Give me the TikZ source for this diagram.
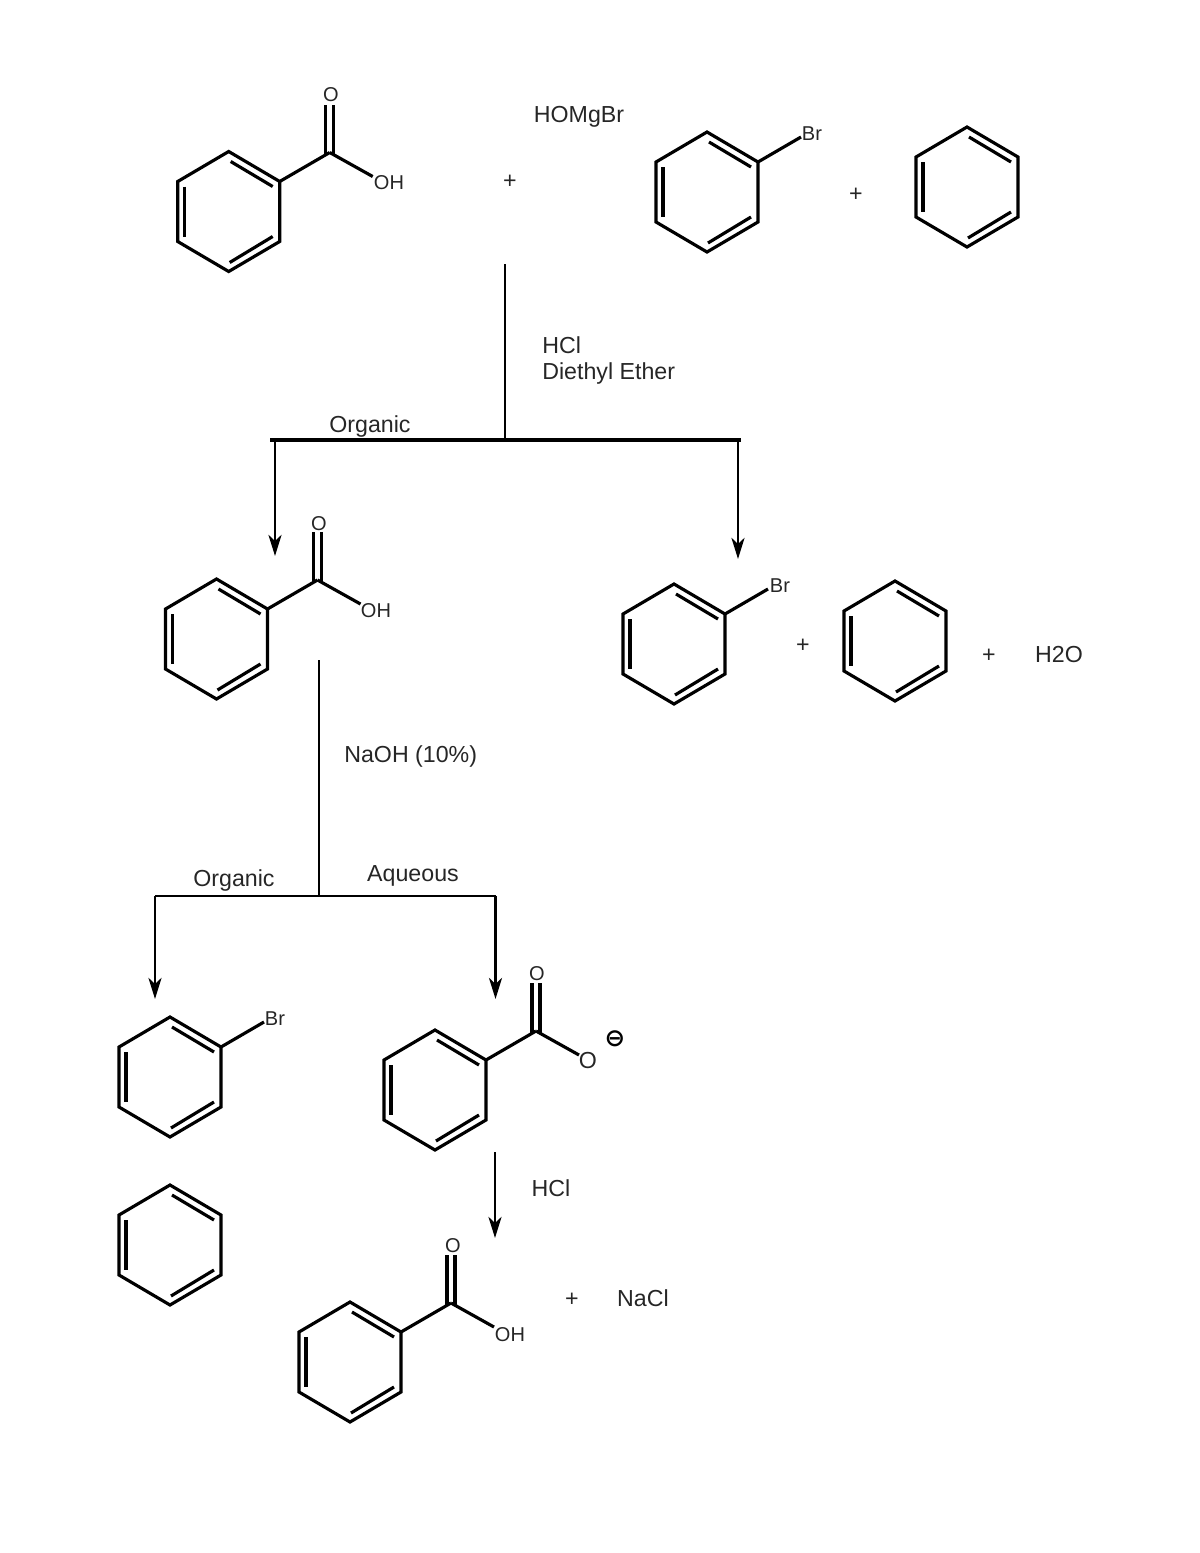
\documentclass[tikz,border=0pt]{standalone}
\usepackage{fontspec}
\setmainfont{Liberation Sans}
\newfontfamily\symbfont{DejaVu Sans}
\usetikzlibrary{arrows.meta}

\begin{document}
\begin{tikzpicture}[
    x=0.02cm, y=-0.02cm,
    bond/.style={line width=1.8pt, line join=miter},
    arrow/.style={-{Stealth[length=12pt, width=7.4pt, inset=3.5pt]}, line width=1.7pt},
    stem/.style={line width=1.5pt},
    bar/.style={line width=2.5pt},
    atom/.style={font=\fontsize{11.4}{12}\selectfont, text=black!85, inner sep=0pt},
    chem/.style={font=\fontsize{13.2}{14.8}\selectfont, text=black!85, inner sep=0pt},
    ring/.pic={
        \draw[bond] (0,-60) -- (51,-30) -- (51,30) -- (0,60) -- (-51,30) -- (-51,-30) -- cycle;
        \draw[bond] (2,-50) -- (44,-25);
        \draw[bond] (-44,-25) -- (-44,25);
        \draw[bond] (1,51) -- (44,25);
    },
    acid/.pic={
        \draw[bond] (51,-30) -- (101,-59);
        \draw[bond] (97,-57) -- (97,-107);
        \draw[bond] (105,-57) -- (105,-107);
        \draw[bond] (101,-59) -- (144,-35);
    },
    halide/.pic={
        \draw[bond] (51,-30) -- (94,-55);
    }
]
    \useasboundingbox (0,0) rectangle (1200,1553);

    % Starting mixture
    \pic at (228.7,211.5) {ring};
    \pic at (228.7,211.5) {acid};
    \node[atom] (oxoA) at (331,95) {O};
    \node[atom] (hydroxA) at (389,183) {OH};
    \node[chem] (plusA) at (510,182) {+};
    \node[chem] (grignard) at (579,117) {HOMgBr};
    \pic at (707,192) {ring};
    \pic at (707,192) {halide};
    \node[atom] (bromA) at (812,134) {Br};
    \node[chem] (plusB) at (856,195) {+};
    \pic at (967,187) {ring};

    % First extraction
    \coordinate (feedA) at (505,264);
    \coordinate (splitA) at (505,440);
    \coordinate (leftA) at (270,440);
    \coordinate (rightA) at (741,440);
    \coordinate (dropB) at (275,440);
    \coordinate (tipB) at (275,556);
    \coordinate (dropC) at (738,440);
    \coordinate (tipC) at (738,559);
    \draw[stem] (feedA) -- (splitA);
    \draw[bar] (leftA) -- (rightA);
    \draw[arrow] (dropB) -- (tipB);
    \draw[arrow] (dropC) -- (tipC);
    \node[chem, align=left, anchor=west] (solvent) at (542,360) {HCl\\Diethyl Ether};
    \node[chem] (organicA) at (370,426) {Organic};

    % Organic layer
    \pic at (216.5,639) {ring};
    \pic at (216.5,639) {acid};
    \node[atom] (oxoB) at (319,524) {O};
    \node[atom] (hydroxB) at (376,611) {OH};

    % Other layer
    \pic at (674,644) {ring};
    \pic at (674,644) {halide};
    \node[atom] (bromB) at (780,586) {Br};
    \node[chem] (plusC) at (803,646) {+};
    \pic at (895,641) {ring};
    \node[chem] (plusD) at (989,656) {+};
    \node[chem] (water) at (1059,655) {H2O};

    % Second extraction
    \coordinate (feedB) at (319,660);
    \coordinate (splitB) at (319,896);
    \coordinate (leftB) at (155,896);
    \coordinate (rightB) at (495.5,896);
    \coordinate (tipD) at (155,999);
    \coordinate (tipE) at (495.5,999);
    \draw[stem] (feedB) -- (splitB);
    \draw[stem] (rightB) -- (leftB);
    \draw[arrow] (leftB) -- (tipD);
    \draw[arrow] (rightB) -- (tipE);
    \node[chem, anchor=west] (base) at (344,756) {NaOH (10\%)};
    \node[chem] (organicB) at (234,880) {Organic};
    \node[chem] (aqueous) at (413,876) {Aqueous};

    % Organic products
    \pic at (170,1077) {ring};
    \pic at (170,1077) {halide};
    \node[atom] (bromC) at (275,1019) {Br};
    \pic at (170,1245) {ring};

    % Benzoate
    \pic at (435,1090) {ring};
    \pic at (435,1090) {acid};
    \node[atom] (oxoC) at (537,974) {O};
    \node[chem] (oxide) at (588,1061) {O};
    \node[font=\symbfont\bfseries\fontsize{14}{16}\selectfont, inner sep=0pt] (charge) at (615,1039) {⊖};

    % Acidify
    \coordinate (feedC) at (495,1152);
    \coordinate (tipF) at (495,1238);
    \draw[arrow] (feedC) -- (tipF);
    \node[chem] (acidify) at (551,1188) {HCl};

    % Recovered acid
    \pic at (350,1362) {ring};
    \pic at (350,1362) {acid};
    \node[atom] (oxoD) at (453,1246) {O};
    \node[atom] (hydroxD) at (510,1335) {OH};
    \node[chem] (plusE) at (572,1300) {+};
    \node[chem] (salt) at (643,1298) {NaCl};
\end{tikzpicture}
\end{document}
